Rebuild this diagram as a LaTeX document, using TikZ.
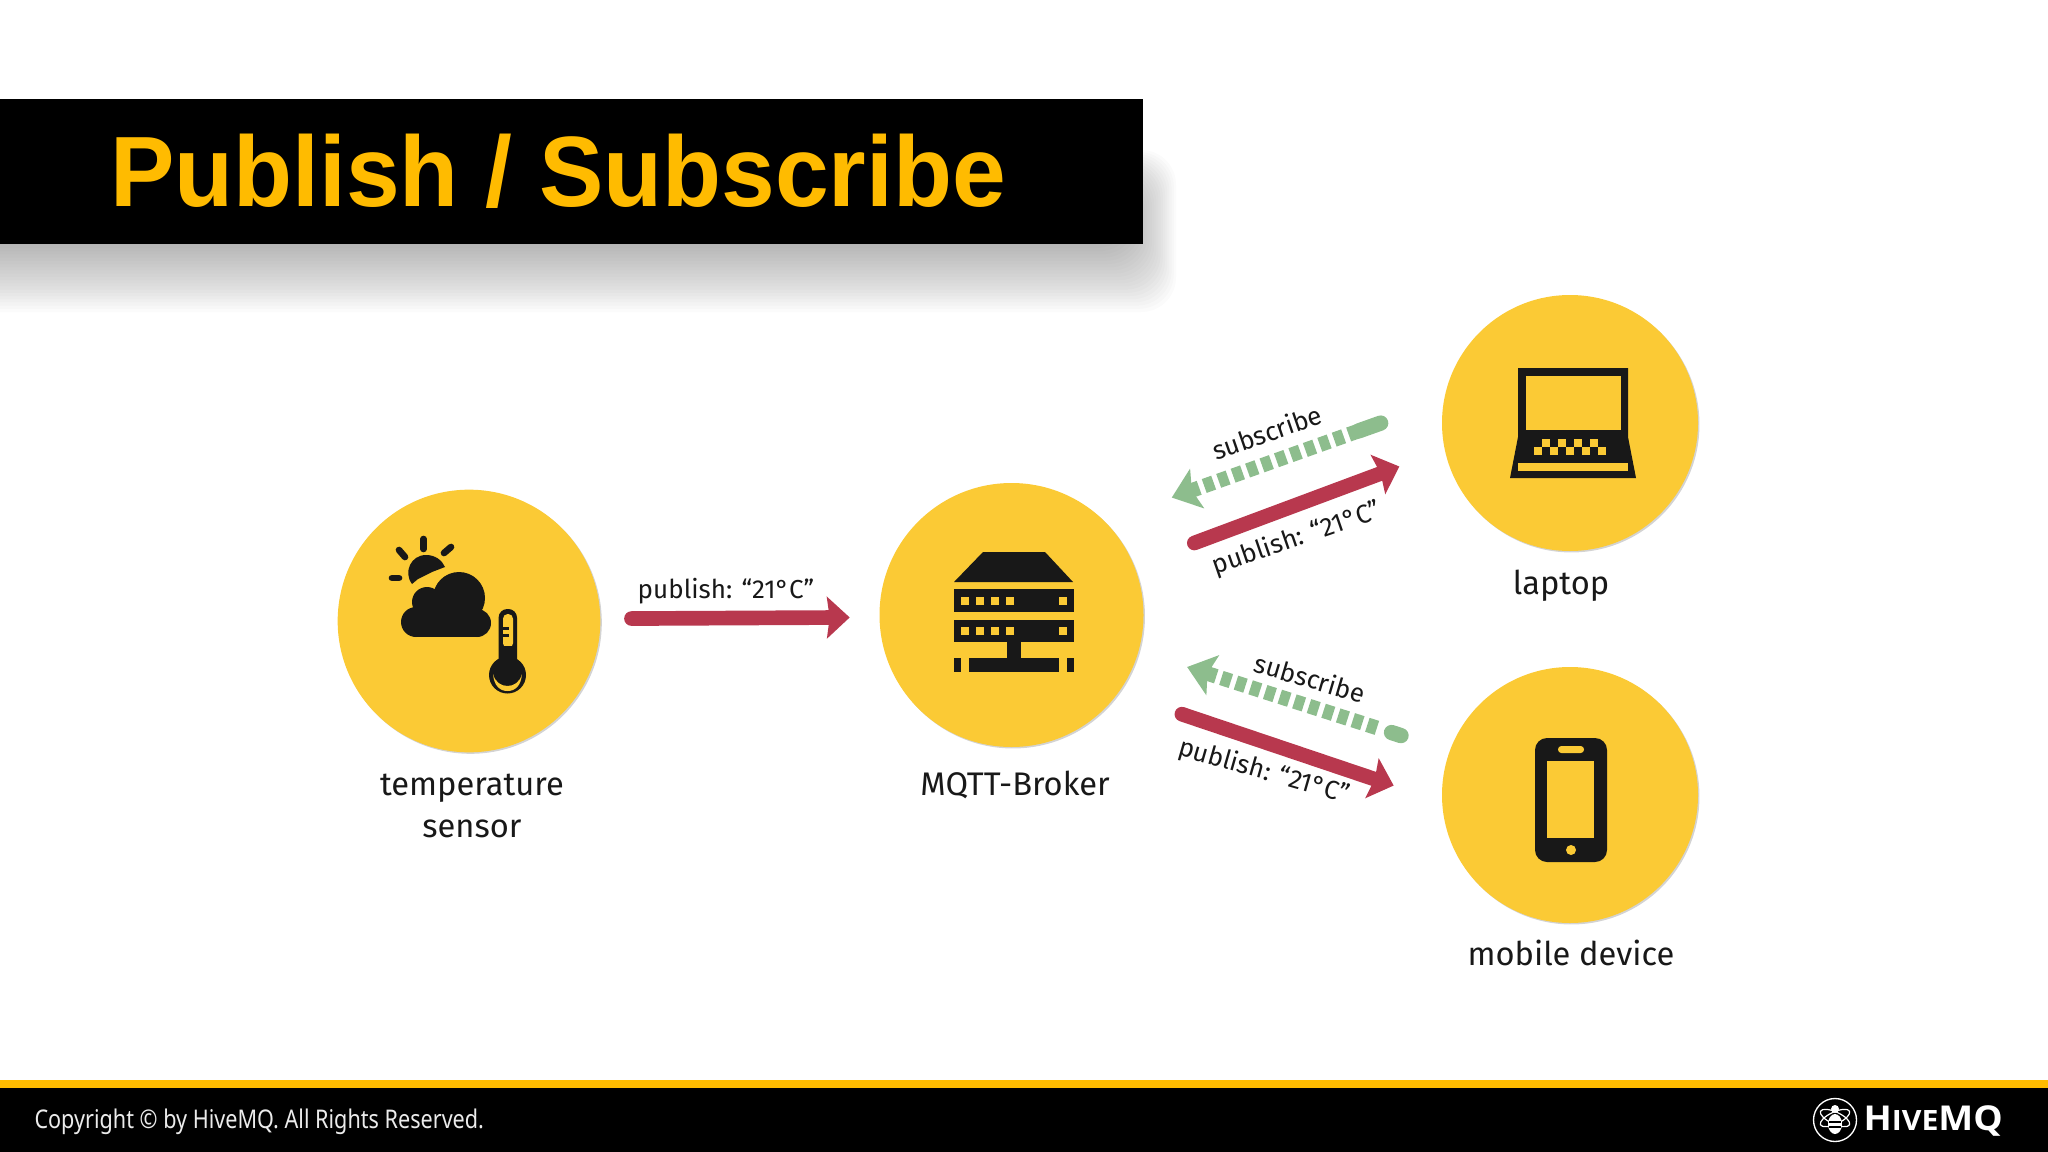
\documentclass[tikz,border=0pt]{standalone}
\usepackage{fontspec}
\usetikzlibrary{arrows.meta,shadows}
\setmainfont{Fira Sans}
\newfontfamily\titlefont{Liberation Sans}[FakeStretch=0.965]
\newfontfamily\footfont{Noto Sans}[FakeStretch=0.84]
\newfontfamily\logofont{Open Sans}[FakeStretch=1.08]

\definecolor{hubyellow}{RGB}{251,202,53}
\definecolor{bandyellow}{RGB}{255,187,0}
\definecolor{pubred}{RGB}{184,56,78}
\definecolor{subgreen}{RGB}{141,189,141}
\definecolor{icondark}{RGB}{24,24,24}

\tikzset{every picture/.style={line width=0.75pt}}
\tikzset{
    hubcircle/.style={circle,fill=hubyellow,inner sep=0pt,minimum size=#1,drop shadow={shadow xshift=1.1pt,shadow yshift=-1.1pt,opacity=0.35}},
    hublabel/.style={font=\fontsize{24.5}{31}\selectfont,text=icondark,align=center,inner sep=0pt},
    linklabel/.style={font=\fontsize{19.5}{22}\selectfont,text=icondark,inner sep=0pt},
    publink/.style={draw=pubred,line width=11pt,line cap=round,-{Stealth[length=17pt,width=31pt,inset=2pt,fill=pubred]}},
    sublink/.style={draw=subgreen,line width=11pt,dash pattern=on 7.5pt off 4pt,-{Stealth[length=20pt,width=31pt,inset=4pt,fill=subgreen]}},
    subtail/.style={draw=subgreen,line width=11.5pt,line cap=round},
    iconpart/.style={fill=icondark,draw=none},
    iconhole/.style={fill=hubyellow,draw=none}
}

\begin{document}
\begin{tikzpicture}[x=0.75pt,y=0.75pt,yscale=-1,xscale=1]
    \useasboundingbox (0,0) rectangle (2048,1152);

    %Shape: Title shadow
    \foreach \s in {0,...,23} {
        \fill [black,opacity=0.015,rounded corners=26pt] (-60,150+2*\s) rectangle (1176-2.2*\s,312-3.2*\s);
    }
    %Shape: Title band
    \draw (-4,99) node (titleband) [anchor=north west,fill=black,inner sep=0pt,minimum width=859.5pt,minimum height=144*0.75pt] {};
    % Text Node
    \draw (558,171) node (titletext) [font=\titlefont\bfseries\fontsize{75}{86}\selectfont,text=bandyellow,inner sep=0pt] {Publish / Subscribe};

    %Shape: Hubs
    \draw (469,621) node (sensor) [hubcircle=197pt] {};
    \draw (1011.5,615) node (broker) [hubcircle=198pt] {};
    \draw (1570,423) node (laptop) [hubcircle=192pt] {};
    \draw (1570,795) node (mobile) [hubcircle=192pt] {};

    % Text Node
    \draw (472,806) node (sensorlabel) [hublabel] {temperature\\sensor};
    % Text Node
    \draw (1015,785) node (brokerlabel) [hublabel] {MQTT-Broker};
    % Text Node
    \draw (1561,586) node (laptoplabel) [hublabel] {laptop};
    % Text Node
    \draw (1571,953) node (mobilelabel) [hublabel] {mobile device};

    %Straight Lines: publish links
    \draw [publink,shorten <=23pt,shorten >=22pt] (sensor.1.3) -- (broker.181.3);
    \draw [publink,shorten <=48pt,shorten >=36pt] (broker.22.25) -- (laptop.192.9);
    \draw [publink,shorten <=50pt,shorten >=38pt] (broker.-36.5) -- (mobile.183.7);

    %Straight Lines: subscribe links
    \draw [sublink,shorten <=68pt,shorten >=53pt] (laptop.170.9) -- (broker.45.8);
    \draw [subtail,shorten <=50pt,shorten >=202pt] (laptop.170.9) -- (broker.45.8);
    \draw [sublink,shorten <=57pt,shorten >=38pt] (mobile.160) -- (broker.-16.5);
    \draw [subtail,shorten <=38pt,shorten >=199pt] (mobile.160) -- (broker.-16.5);

    % Text Node
    \draw (726,591) node (publabelsensor) [linklabel] {publish: “21°C”};
    % Text Node
    \draw (1267,432) node (sublabellaptop) [linklabel,rotate=19] {subscribe};
    % Text Node
    \draw (1297,539) node (publabellaptop) [linklabel,rotate=19] {publish: “21°C”};
    % Text Node
    \draw (1310,678) node (sublabelmobile) [linklabel,rotate=-16.5] {subscribe};
    % Text Node
    \draw (1264,772) node (publabelmobile) [linklabel,rotate=-16] {publish: “21°C”};

    %Shape: Sensor icon, sun
    \fill [iconpart] (412,584) .. controls (403,572) and (411,555) .. (426,555) .. controls (435,555) and (442,560) .. (445,567) -- (432,572) -- (418,579) -- cycle;
    \foreach \rx/\ry/\sx/\sy in {423.6/539/423.6/549,399/550/405/557,451/547/444/553,392/578/399/578} {
        \draw [icondark,line width=5pt,line cap=round] (\rx,\ry) -- (\sx,\sy);
    }
    %Shape: Sensor icon, cloud
    \foreach \cx/\cy/\cr in {416/622/15,427/602/15,459/598/26,477/623/14} {
        \fill [iconpart] (\cx,\cy) circle [radius=\cr];
    }
    \fill [iconpart] (416,600) rectangle (477,637);
    %Shape: Sensor icon, thermometer
    \fill [iconpart,rounded corners=6.5pt] (498.6,609) rectangle (517,672);
    \fill [iconpart] (507.5,675) circle [radius=18.5];
    \fill [iconhole,rounded corners=3.5pt] (503,614) rectangle (513,648);
    \fill [iconpart] (503,646) rectangle (513,656);
    \fill [iconpart] (503,626.5) rectangle (508.5,629.5);
    \fill [iconpart] (503,634) rectangle (508.5,637);
    \fill [iconhole] (493,674) .. controls (494,686) and (500,691) .. (507.5,691) .. controls (515,691) and (521,686) .. (522,674) .. controls (520,682) and (514,686) .. (507.5,686) .. controls (501,686) and (495,682) .. (493,674) -- cycle;

    %Shape: Broker icon
    \fill [iconpart] (954,582) -- (983,552) -- (1045,552) -- (1073,582) -- cycle;
    \fill [iconpart] (954,589) rectangle (1074,612);
    \fill [iconpart] (954,620) rectangle (1074,642);
    \fill [iconpart] (1007,642) rectangle (1021,660);
    \fill [iconpart] (969,658) rectangle (1059,672);
    \fill [iconpart] (954,658) rectangle (961,672);
    \fill [iconpart] (1067,658) rectangle (1074,672);
    \foreach \ledy in {597,627} {
        \foreach \ledx in {961,976,991,1006,1059} {
            \fill [iconhole] (\ledx,\ledy) rectangle (\ledx+7.5,\ledy+7.5);
        }
    }

    %Shape: Laptop icon
    \fill [iconpart] (1518,368) -- (1628,368) -- (1628,437) -- (1636,478) -- (1510,478) -- (1518,437) -- cycle;
    \fill [iconhole] (1525.5,376) rectangle (1621,430);
    \fill [iconhole] (1518,463) rectangle (1628,471);
    \foreach \keyx in {1541.5,1557.5,1573.5,1589.5} {
        \fill [iconhole] (\keyx,439) rectangle (\keyx+8,447);
    }
    \foreach \keyx in {1533.5,1549.5,1565.5,1581.5,1597.5} {
        \fill [iconhole] (\keyx,447) rectangle (\keyx+8,455);
    }

    %Shape: Mobile icon
    \fill [iconpart,rounded corners=9pt] (1535,738) rectangle (1607,862);
    \fill [iconhole] (1547,761) rectangle (1594,838);
    \fill [iconhole,rounded corners=2.5pt] (1558,746) rectangle (1584,753);
    \fill [iconhole] (1571,850) circle [radius=5];

    %Shape: Footer
    \fill [black] (0,1088) rectangle (2048,1152);
    \fill [bandyellow] (0,1080) rectangle (2048,1088);
    % Text Node
    \draw (34,1121.5) node (copyright) [anchor=west,font=\footfont\fontsize{19.3}{21}\selectfont,text=black!8,inner sep=0pt] {Copyright © by HiveMQ. All Rights Reserved.};

    %Shape: Logo bee
    \draw [white,line width=1pt] (1835,1120) circle [radius=21.5];
    \fill [white] (1835,1124) ellipse [x radius=7,y radius=10];
    \fill [white] (1835,1109) circle [radius=4];
    \draw [white,line width=0.9pt,rotate around={25:(1835,1118)}] (1835,1118) ellipse [x radius=16,y radius=6];
    \draw [white,line width=0.9pt,rotate around={-25:(1835,1118)}] (1835,1118) ellipse [x radius=16,y radius=6];
    \draw [black,line width=1pt] (1829,1122) -- (1841,1122);
    \draw [black,line width=1pt] (1829,1127) -- (1841,1127);
    % Text Node
    \draw (1863,1120.5) node (logotext) [anchor=west,font=\logofont\bfseries\fontsize{25.7}{28}\selectfont,text=white,inner sep=0pt] {H{\fontsize{21}{28}\selectfont IVE}MQ};
\end{tikzpicture}
\end{document}
